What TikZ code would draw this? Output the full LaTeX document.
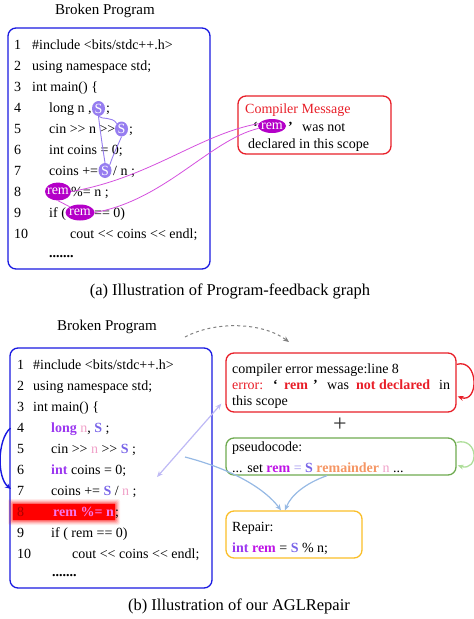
\documentclass[tikz,border=0pt]{standalone}
\usepackage{fontspec}
\setmainfont{Liberation Serif}
\usetikzlibrary{arrows.meta,shapes.geometric,calc}
\newcommand{\gtgt}{>\kern0pt>}
\newcommand{\ltlt}{<\kern0pt<}
\definecolor{boxblue}{RGB}{25,25,225}
\definecolor{errred}{RGB}{232,30,40}
\definecolor{boxgreen}{RGB}{110,170,80}
\definecolor{boxyellow}{RGB}{250,190,40}
\definecolor{loopgreen}{RGB}{175,222,155}
\definecolor{lavline}{RGB}{190,185,245}
\definecolor{lblue}{RGB}{150,185,228}
\definecolor{sfill}{RGB}{150,125,240}
\definecolor{remfill}{RGB}{180,0,200}
\definecolor{magline}{RGB}{212,80,222}
\definecolor{kw}{RGB}{155,55,240}
\definecolor{npink}{RGB}{240,160,200}
\definecolor{slav}{RGB}{120,100,232}
\definecolor{remc}{RGB}{190,20,230}
\definecolor{orng}{RGB}{245,150,100}
\definecolor{hltext}{RGB}{245,120,235}
\begin{document}
\begin{tikzpicture}[x=1pt,y=-1pt,
  codetxt/.style={inner sep=0pt, anchor=base west, font=\fontsize{14}{16}\selectfont},
  titletxt/.style={inner sep=0pt, font=\fontsize{15}{18}\selectfont},
  captxt/.style={inner sep=0pt, font=\fontsize{16.5}{19}\selectfont},
  pbox/.style={draw, rounded corners=8pt, line width=1.3pt, inner sep=0pt},
  sbub/.style={ellipse, fill=sfill, text=white, inner sep=0pt, minimum width=13pt, minimum height=15pt, font=\fontsize{14}{16}\selectfont},
  rbub/.style={ellipse, fill=remfill, text=white, inner sep=0pt, minimum width=27pt, minimum height=17pt, font=\fontsize{14}{16}\selectfont},
  sline/.style={draw=sfill, line width=0.9pt},
  mline/.style={draw=magline, line width=0.8pt},
  tip/.style={-{Stealth[length=6pt,width=5pt]}}
]
\useasboundingbox (0,0) rectangle (474,619);

% ================= panel (a) =================
\node[titletxt] (tA) at (105,11) {Broken Program};
\node[pbox, draw=boxblue, minimum width=202pt, minimum height=241pt] (boxA) at (109,148.5) {};
\foreach \i in {1,...,10} { \node[codetxt] (aln\i) at (14,{49+21*(\i-1)}) {\i}; }
\node[codetxt] (a1) at (32,49) {\#include <bits/stdc++.h>};
\node[codetxt] (a2) at (32,70) {using namespace std;};
\node[codetxt] (a3) at (32,91) {int main() \{};
\node[codetxt] (a4) at (49,112) {long n ,};
\node[codetxt] (a4b) at (106,112) {;};
\node[codetxt] (a5) at (49,133) {cin \gtgt{} n \gtgt};
\node[codetxt] (a5b) at (129,133) {;};
\node[codetxt] (a6) at (49,154) {int coins = 0;};
\node[codetxt] (a7) at (49,175) {coins +=};
\node[codetxt] (a7b) at (113,175) {/ n ;};
\node[codetxt] (a8) at (71,196) {\%= n ;};
\node[codetxt] (a9) at (49,217) {if (};
\node[codetxt] (a9b) at (94,217) {== 0)};
\node[codetxt] (a10) at (70,238) {cout \ltlt{} coins \ltlt{} endl;};
\node[codetxt] (a11) at (49,257) {\textbf{.......}};

% compiler message box
\node[pbox, draw=errred, minimum width=153pt, minimum height=58pt] (cmsg) at (314.5,125) {};
\node[codetxt, text=errred] (cm1) at (245,113) {Compiler Message};
\node[codetxt] (cmq1) at (253,131) {\textbf{‘}};
\node[codetxt] (cmq2) at (288,131) {\textbf{’}};
\node[codetxt] (cm2) at (302,131) {was not};
\node[codetxt] (cm3) at (248,148) {declared in this scope};

% bubbles
\node[sbub] (s4) at (98.5,108.5) {\makebox[0pt]{S}};
\node[sbub] (s5) at (121.5,129) {\makebox[0pt]{S}};
\node[sbub] (s7) at (105,170.5) {\makebox[0pt]{S}};
\node[rbub, minimum width=26pt, minimum height=18pt] (r8) at (58,191.5) {\makebox[0pt]{rem}};
\node[rbub, minimum width=29pt, minimum height=16pt] (r9) at (80,212.5) {\makebox[0pt]{rem}};
\node[rbub, minimum width=28pt, minimum height=14pt] (crem) at (272,126) {\makebox[0pt]{rem}};

% connectors among bubbles
\path[sline] (s4.south) .. controls (102,120) and (112,116) .. (s5.north west);
\path[sline] (s4.south) .. controls (100,130) and (103,150) .. (s7.north);
\path[sline] (s5.south) .. controls (118,145) and (113,155) .. (s7.north east);
\path[mline] (r8.south) -- (r9.north west);
\path[mline] (r8.east) .. controls (150,178) and (200,134) .. (crem.170);
\path[mline] (r9.east) .. controls (165,200) and (210,140) .. (crem.190);

\node[captxt] (capA) at (230,291) {(a) Illustration of Program-feedback graph};

% ================= panel (b) =================
\node[titletxt] (tB) at (107,327) {Broken Program};
\node[pbox, draw=boxblue, minimum width=202pt, minimum height=240pt] (boxB) at (111,468) {};

% highlight of line 8
\foreach \k/\o in {5/0.08,4/0.1,3/0.14,2/0.2,1/0.3} {
  \fill[red, opacity=\o, rounded corners=2pt] ({13-\k},{504-\k}) rectangle ({115+\k},{520+\k});
}
\fill[red] (13,504) rectangle (115,520);

\foreach \i in {1,2,3,4,5,6,7,9,10} { \node[codetxt] (bln\i) at (17,{369+21*(\i-1)}) {\i}; }
\node[codetxt, text={rgb,255:red,170;green,0;blue,0}] (bln8) at (17,516) {8};
\node[codetxt] (b1) at (33,369) {\#include <bits/stdc++.h>};
\node[codetxt] (b2) at (33,390) {using namespace std;};
\node[codetxt] (b3) at (33,411) {int main() \{};
\node[codetxt] (b4) at (51,432) {\textcolor{kw}{\textbf{long}} \textcolor{npink}{n}, \textcolor{slav}{\textbf{S}} ;};
\node[codetxt] (b5) at (51,453) {cin \gtgt{} \textcolor{npink}{n} \gtgt{} \textcolor{slav}{\textbf{S}} ;};
\node[codetxt] (b6) at (51,474) {\textcolor{kw}{\textbf{int}} coins = 0;};
\node[codetxt] (b7) at (51,495) {coins += \textcolor{slav}{\textbf{S}} / \textcolor{npink}{n} ;};
\node[codetxt, text=hltext] (b8) at (53,516) {\textbf{rem \%= n}};
\node[codetxt] (b8b) at (115,516) {;};
\node[codetxt] (b9) at (51,537) {if ( rem == 0)};
\node[codetxt] (b10) at (72,558) {cout \ltlt{} coins \ltlt{} endl;};
\node[codetxt] (b11) at (52,576) {\textbf{.......}};

% right boxes
\node[pbox, draw=errred, minimum width=230pt, minimum height=59pt] (errbox) at (341,382.5) {};
\node[pbox, draw=boxgreen, minimum width=230pt, minimum height=37pt] (psebox) at (341,456.5) {};
\node[pbox, draw=boxyellow, minimum width=136pt, minimum height=47pt] (repbox) at (294,534.5) {};

\node[codetxt] (e1) at (232,373) {compiler error message:line 8};
\node[codetxt, text=errred] (e2a) at (232,389) {error:};
\node[codetxt] (e2b) at (273,389) {\textbf{‘}};
\node[codetxt, text=errred] (e2c) at (284,389) {\textbf{rem}};
\node[codetxt] (e2d) at (313,389) {\textbf{’}};
\node[codetxt] (e2e) at (327,389) {was};
\node[codetxt, text=errred] (e2f) at (356,389) {\textbf{not declared}};
\node[codetxt] (e2g) at (439,389) {in};
\node[codetxt] (e3) at (232,405) {this scope};

\node[inner sep=0pt, font=\fontsize{24}{24}\selectfont, text={rgb,255:red,50;green,50;blue,50}] (plus) at (340,425) {+};

\node[codetxt] (p1) at (232,451) {pseudocode:};
\node[codetxt] (p2) at (232,472) {... set \textcolor{remc}{\textbf{rem}} \textcolor{slav!70}{=} \textcolor{slav}{\textbf{S}} \textcolor{orng}{\textbf{remainder}} \textcolor{npink}{n} ...};

\node[codetxt] (r1) at (232,531) {Repair:};
\node[codetxt] (r2) at (232,552) {\textcolor{kw}{\textbf{int}} \textcolor{remc}{\textbf{rem}} = \textcolor{slav}{\textbf{S}} \% n;};

\node[captxt] (capB) at (239,606) {(b) Illustration of our AGLRepair};

% connectors panel (b)
\coordinate (blA) at (10.5,428);
\coordinate (blB) at (11,489);
\draw[boxblue, line width=1.4pt, tip] (blA) .. controls (-3,440) and (-3,478) .. (blB);

\coordinate (gdA) at (185,337);
\coordinate (gdB) at (289,342);
\draw[gray, line width=1pt, dashed, tip] (gdA) .. controls (215,321) and (262,322) .. (gdB);

\coordinate (lvA) at (157,477);
\draw[lavline, line width=1.2pt, {Stealth[length=6pt,width=5pt]}-{Stealth[length=6pt,width=5pt]}] (lvA) -- ($(errbox.south west)+(-4,-9)$);

\coordinate (lbA) at (185,457);
\draw[lblue, line width=1.2pt, tip] (lbA) .. controls (235,470) and (266,490) .. ($(repbox.north)+(-13,0)$);
\draw[lblue, line width=1.2pt, tip] ($(psebox.south)+(-14,0)$) .. controls (306,483) and (291,495) .. ($(repbox.north)+(-9,0)$);

\draw[errred, line width=1.3pt, tip] ($(errbox.north east)+(0,12)$) .. controls (479,358) and (479,404) .. ($(errbox.north east)+(1,44)$);
\draw[loopgreen, line width=1.3pt, tip] ($(psebox.north east)+(0,5)$) .. controls (479,437) and (479,472) .. ($(psebox.north east)+(1,28)$);
\end{tikzpicture}
\end{document}
